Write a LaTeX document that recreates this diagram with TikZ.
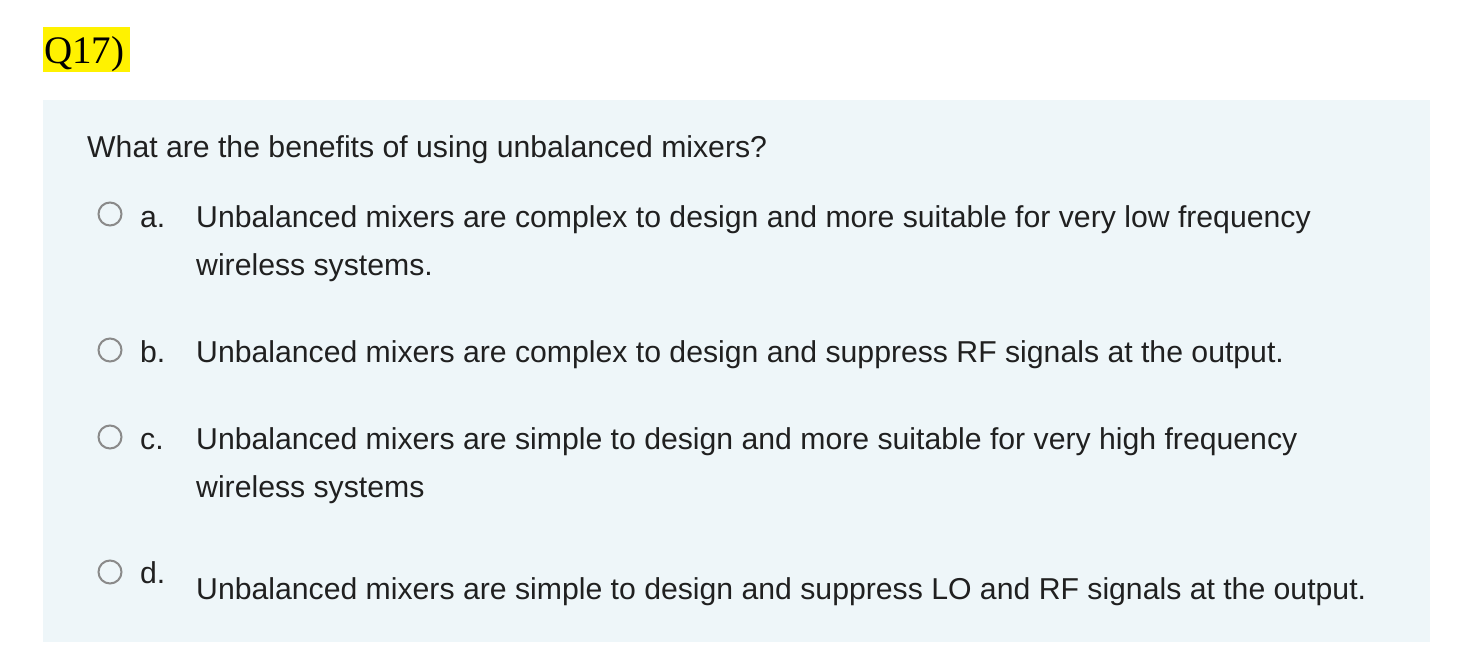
\documentclass[tikz,border=0pt]{standalone}
\usepackage{fontspec}
\setmainfont{Liberation Sans}
\newfontfamily\qserif{Liberation Serif}
\definecolor{panel}{HTML}{EEF6F9}
\definecolor{txt}{HTML}{202020}
\definecolor{radio}{HTML}{8A8A8A}
\begin{document}
\begin{tikzpicture}[x=1pt,y=-1pt,
  tx/.style={anchor=base west,inner sep=0pt,text=txt,font=\fontsize{30.2}{34}\selectfont},
  rb/.style={circle,draw=radio,line width=2pt,minimum size=23pt,inner sep=0pt}]
\useasboundingbox (0,0) rectangle (1460,654);
\fill[white] (0,0) rectangle (1460,654);
\fill[yellow] (43,27) rectangle (130,72);
\node[anchor=base west,inner sep=0pt,font=\qserif\fontsize{39}{42}\selectfont] (q) at (44,63) {Q17)};
\fill[panel] (43,100) rectangle (1430,642);
\node[tx] (qt) at (87,157) {What are the benefits of using unbalanced mixers?};
\node[rb] (ra) at (110,214) {};
\node[tx] (la) at (140,227) {a.};
\node[tx] (ta1) at (196,227) {Unbalanced mixers are complex to design and more suitable for very low frequency};
\node[tx] (ta2) at (196,275) {wireless systems.};
\node[rb] (rbb) at (110,350) {};
\node[tx] (lb) at (140,362) {b.};
\node[tx] (tb) at (196,362) {Unbalanced mixers are complex to design and suppress RF signals at the output.};
\node[rb] (rc) at (110,437) {};
\node[tx] (lc) at (140,449) {c.};
\node[tx] (tc1) at (196,449) {Unbalanced mixers are simple to design and more suitable for very high frequency};
\node[tx] (tc2) at (196,497) {wireless systems};
\node[rb] (rd) at (110,572) {};
\node[tx] (ld) at (140,583) {d.};
\node[tx] (td) at (196,599) {Unbalanced mixers are simple to design and suppress LO and RF signals at the output.};
\end{tikzpicture}
\end{document}
